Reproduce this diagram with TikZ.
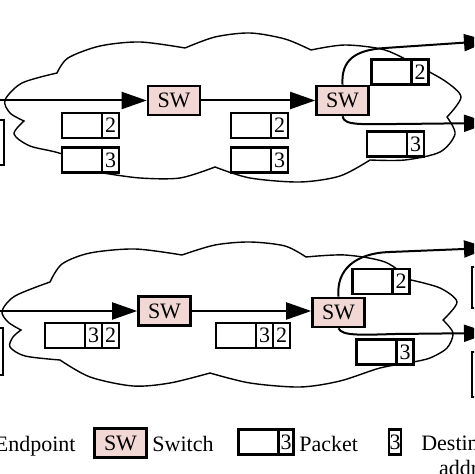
\documentclass[tikz,border=0pt]{standalone}
\usepackage{fontspec}
\setmainfont{Liberation Serif}
\usepackage{tikz}
\usetikzlibrary{arrows.meta,positioning}
\definecolor{swpink}{RGB}{242,216,213}

\begin{document}
\begin{tikzpicture}[x=0.5pt,y=-0.5pt,
  swbox/.style={draw, line width=1.3pt, fill=swpink, minimum width=26pt, minimum height=14.5pt, inner sep=0pt, font=\fontsize{11}{13}\selectfont},
  pktbody/.style={draw, line width=1.3pt, fill=white, minimum width=20pt, minimum height=12.5pt, inner sep=0pt, outer sep=0pt},
  addrcell/.style={pktbody, minimum width=8.5pt, font=\fontsize{11}{13}\selectfont},
  epbox/.style={draw, line width=1.3pt, fill=white, minimum width=22pt, inner sep=0pt},
  arr/.style={-{Triangle[length=12.5pt,width=8.5pt]}, line width=1pt},
  cloudline/.style={line width=0.7pt},
  lbl/.style={font=\fontsize{11}{12.5}\selectfont, inner sep=0pt}
]
\useasboundingbox (0,0) rectangle (474,474);
\clip (0,0) rectangle (474,474);

% clouds
\draw[cloudline] plot[smooth] coordinates {(57,73) (68,58) (100,46) (140,42) (185,48)}
  -- plot[smooth] coordinates {(185,48) (215,37) (250,33) (285,39) (311,50)}
  -- plot[smooth] coordinates {(311,50) (345,45) (385,50) (418,66)}
  -- plot[smooth] coordinates {(418,66) (445,81) (461,97) (447,117)}
  -- plot[smooth] coordinates {(447,117) (455,134) (440,152) (405,160) (370,160)}
  -- plot[smooth] coordinates {(370,160) (340,176) (300,182) (250,178) (215,167)}
  -- plot[smooth] coordinates {(215,167) (180,178) (140,178) (103,173)}
  -- plot[smooth] coordinates {(103,173) (62,154) (30,146) (14,134) (24,121)}
  -- plot[smooth] coordinates {(24,121) (10,113) (5,100) (22,83) (57,73)} -- cycle;
\draw[cloudline] plot[smooth] coordinates {(50,282) (62,264) (90,253) (135,249) (182,255)}
  -- plot[smooth] coordinates {(182,255) (215,245) (250,242) (285,246) (306,257)}
  -- plot[smooth] coordinates {(306,257) (345,255) (385,262) (411,280)}
  -- plot[smooth] coordinates {(411,280) (440,288) (457,302) (443,320)}
  -- plot[smooth] coordinates {(443,320) (453,333) (447,348) (430,358) (413,362)}
  -- plot[smooth] coordinates {(413,362) (380,368) (340,381) (300,387) (250,383) (210,373)}
  -- plot[smooth] coordinates {(210,373) (170,383) (133,386) (90,377) (60,360)}
  -- plot[smooth] coordinates {(60,360) (25,356) (10,347) (13,337) (21,330)}
  -- plot[smooth] coordinates {(21,330) (8,322) (2,311) (15,296) (50,282)} -- cycle;

% top network
\node[epbox, minimum height=22.5pt] (ep1) at (-18,142.5) {};
\coordinate (in1) at (-5,100.5);
\node[swbox] (sw1) at (174,100.5) {SW};
\node[swbox] (sw2) at (342.5,100.5) {SW};
\coordinate (out1) at (489,41);
\coordinate (out2) at (489,123);

\node[pktbody] (pa) at (82,125.5) {};
\node[addrcell, right=0pt of pa] (pan) {2};
\node[pktbody] (pb) at (82,160) {};
\node[addrcell, right=0pt of pb] (pbn) {3};
\node[pktbody] (pc) at (251,125.5) {};
\node[addrcell, right=0pt of pc] (pcn) {2};
\node[pktbody] (pd) at (251,160) {};
\node[addrcell, right=0pt of pd] (pdn) {3};
\node[pktbody] (pe) at (391.5,72) {};
\node[addrcell, right=0pt of pe] (pen) {2};
\node[pktbody] (pf) at (387,144) {};
\node[addrcell, right=0pt of pf] (pfn) {3};

\draw[arr] (in1) -- (sw1);
\draw[arr] (sw1) -- (sw2);
\draw[arr] (sw2.north) .. controls (341,60) and (355,50) .. (385,48) -- (out1);
\draw[arr] (sw2.south) .. controls (344,126) and (362,124) .. (400,124) -- (out2);

% bottom network
\node[epbox, minimum height=23.5pt] (ep2) at (-19,351.5) {};
\node[epbox, minimum height=20.5pt] (ep3) at (494,287.5) {};
\node[epbox, minimum height=22.5pt] (ep4) at (494,374.5) {};
\coordinate (in2) at (-5,311);
\node[swbox] (bsw1) at (164.5,311) {SW};
\node[swbox] (bsw2) at (338.5,312.5) {SW};
\coordinate (out3) at (489,248);
\coordinate (out4) at (489,333);

\node[pktbody] (qa) at (65,335.5) {};
\node[addrcell, right=0pt of qa] (qan) {3};
\node[addrcell, right=0pt of qan] (qam) {2};
\node[pktbody] (qb) at (236,335.5) {};
\node[addrcell, right=0pt of qb] (qbn) {3};
\node[addrcell, right=0pt of qbn] (qbm) {2};
\node[pktbody] (qc) at (372.5,281.5) {};
\node[addrcell, right=0pt of qc] (qcn) {2};
\node[pktbody] (qd) at (376.5,352) {};
\node[addrcell, right=0pt of qd] (qdn) {3};

\draw[arr] (in2) -- (bsw1.west |- in2);
\draw[arr] (bsw1.east |- in2) -- (bsw2.west |- in2);
\draw[arr] (bsw2.north) .. controls (336,270) and (355,253) .. (390,252) -- (out3);
\draw[arr] (bsw2.south) .. controls (342,336) and (360,335) .. (395,334) -- (out4);

% legend
\node[lbl, anchor=base east] (lep) at (76,451) {Endpoint};
\node[swbox] (lsw) at (120.5,443) {SW};
\node[lbl, anchor=base west] (lswt) at (152,451) {Switch};
\node[pktbody] (lpk) at (258.5,442) {};
\node[addrcell, right=0pt of lpk, minimum width=7.5pt] (lpkn) {3};
\node[lbl, anchor=base west] (lpkt) at (299,451) {Packet};
\node[addrcell, minimum width=6pt] (ldst) at (395,442) {3};
\node[lbl, anchor=north, align=center] (ldstt) at (472,436) {Destination\\address};
\end{tikzpicture}
\end{document}
